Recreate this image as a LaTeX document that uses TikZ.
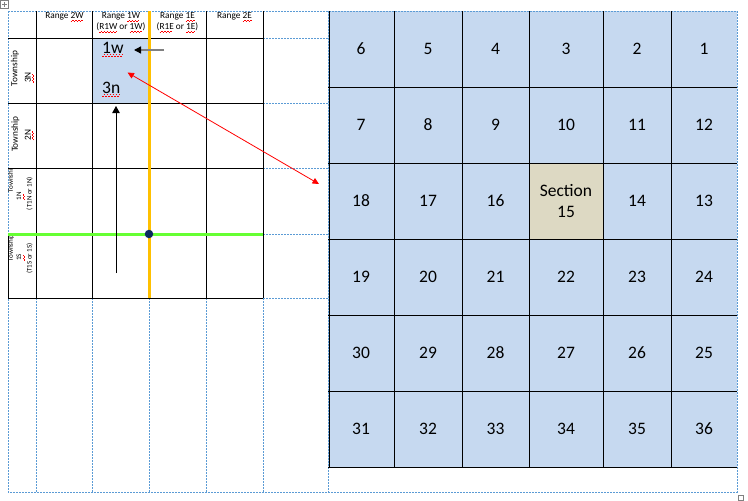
\documentclass[tikz,border=0pt]{standalone}
\usepackage{fontspec}
\setmainfont{Carlito}
\usepackage{tikz}
\usetikzlibrary{arrows.meta}

\definecolor{gridblue}{HTML}{C6D9F0}
\definecolor{secbeige}{HTML}{DDD9C3}
\definecolor{guideblue}{HTML}{5B9BD5}
\definecolor{meridian}{HTML}{FFC000}
\definecolor{baseg}{HTML}{66FF33}
\definecolor{navy}{HTML}{0B2A5E}

% red spelling squiggle
\newcommand\rwave[1]{\leavevmode\setbox0\hbox{#1}%
  \rlap{\color{red}\lower3.2pt\hbox to\wd0{\leaders\hbox{\vrule height0.7pt depth0pt width1.5pt%
    \raise1.1pt\hbox{\vrule height0.7pt depth0pt width1.5pt}}\hfill}}\box0\relax}

\tikzset{
  gridline/.style={line width=0.8pt},
  guide/.style={guideblue,line width=0.6pt,dash pattern=on 2pt off 1pt},
  hdr/.style={font=\fontsize{9.3}{11}\selectfont,align=center,inner sep=0pt,anchor=north},
  twp/.style={font=\fontsize{9.3}{11}\selectfont,rotate=90,inner sep=0pt},
  twps/.style={font=\fontsize{7}{8.5}\selectfont,rotate=90,inner sep=0pt},
  sec/.style={font=\fontsize{17.5}{21.5}\selectfont,align=center,inner sep=0pt},
  big/.style={font=\fontsize{17.5}{20}\selectfont,inner sep=0pt,anchor=base west}
}

\begin{document}
\begin{tikzpicture}[x=1pt,y=-1pt]
      \useasboundingbox (0,0) rectangle (748,501);
      % fills
      \fill[gridblue] (328,11) rectangle (737,467);
      \fill[secbeige] (529,163) rectangle (603,239);
      \fill[gridblue] (92,38) rectangle (149,103);
      %% the table guides
      \draw[guide] (8,11) rectangle (737,492);
      \draw[guide] (328,11) -- (328,492);
      \foreach \x in {36,92,149,206,263}
        \draw[guide] (\x,298) -- (\x,492);
      \foreach \y in {38,103,168,234,298}
        \draw[guide] (263,\y) -- (328,\y);
      %% the township / range table
      \foreach \y in {38,103,168,298}
        \draw[gridline] (8,\y) -- (263,\y);
      \foreach \x in {36,92,206,263}
        \draw[gridline] (\x,11) -- (\x,298);
      \draw[gridline] (8,234) -- (8,298);
      \node[hdr] (r2w) at (64.5,12.5) {Range \rwave{2W}};
      \node[hdr] (r1w) at (121,12.5) {Range \rwave{1W}\\(\rwave{R1W} or \rwave{1W})};
      \node[hdr] (r1e) at (177.5,12.5) {Range \rwave{1E}\\(\rwave{R1E} or \rwave{1E})};
      \node[hdr] (r2e) at (234.5,12.5) {Range \rwave{2E}};
      \node[twp] (t3a) at (15,68.5) {Township};
      \node[twp] (t3b) at (29.5,77.5) {\rwave{3N}};
      \node[twp] (t2a) at (15.5,134) {Township};
      \node[twp] (t2b) at (29.5,135) {\rwave{2N}};
      \begin{scope}
        \clip (8.5,168) rectangle (36,234);
        \node[twps] (t1a) at (11,179) {Township};
        \node[twps] (t1b) at (20.5,196) {\rwave{1N}};
        \node[twps] (t1c) at (29.5,193.5) {(T1N or 1N)};
      \end{scope}
      \begin{scope}
        \clip (8.5,234) rectangle (36,298);
        \node[twps] (s1a) at (11,248) {Township};
        \node[twps] (s1b) at (20.5,257.5) {\rwave{1S}};
        \node[twps] (s1c) at (29.5,258.5) {(T1S or 1S)};
      \end{scope}
      \node[big] (lw) at (102,53) {\rwave{1w}};
      \node[big] (ln) at (102,93) {\rwave{3n}};
      % principal meridian and base line
      \draw[meridian,line width=3pt] (149,11) -- (149,298);
      \draw[baseg,line width=3pt] (8,234) -- (263,234);
      \node[circle,fill=navy,inner sep=0pt,minimum size=8.5pt] (origin) at (149,234) {};
      %% the 36 sections
      \foreach \x in {329,394,462,529,603,671}
        \draw[gridline] (\x,11) -- (\x,467);
      \foreach \y in {87,163,239,315,391,467}
        \draw[gridline] (328,\y) -- (737,\y);
      \foreach \xa/\xb [count=\c from 0] in {328/394,394/462,462/529,529/603,603/671,671/737}
      \foreach \r in {0,...,5}
      {
        \pgfmathtruncatemacro\n{isodd(\r) ? 6*\r+1+\c : 6*\r+6-\c}
        \ifnum\n=15
          \node[sec] (s\n) at ({(\xa+\xb)/2},{49+76*\r}) {Section\\15};
        \else
          \node[sec] (s\n) at ({(\xa+\xb)/2},{49+76*\r}) {\n};
        \fi
      }
      % arrows
      \coordinate (wtail) at (164,50);
      \coordinate (whead) at (134,50);
      \coordinate (ntail) at (116,273);
      \coordinate (nhead) at (116,106);
      \coordinate (ra) at (127.5,72.5);
      \coordinate (rb) at (319,184);
      \draw[gray,line width=1.3pt,-{Triangle[length=7pt,width=7pt,color=black]}] (wtail) -- (whead);
      \draw[line width=0.9pt,-{Triangle[length=7pt,width=7.5pt]}] (ntail) -- (nhead);
      \draw[red,line width=0.8pt,{Triangle[length=6.5pt,width=6pt]}-{Triangle[length=6.5pt,width=6pt]}] (ra) -- (rb);
      % table handles
      \draw[gray,line width=0.5pt] (0.5,0.5) rectangle (8.5,8.5);
      \draw[gray,line width=0.5pt] (2,4.5) -- (7,4.5) (4.5,2) -- (4.5,7);
      \draw[gray,line width=0.5pt] (738.5,495.5) rectangle (743.5,500.5);
\end{tikzpicture}
\end{document}
